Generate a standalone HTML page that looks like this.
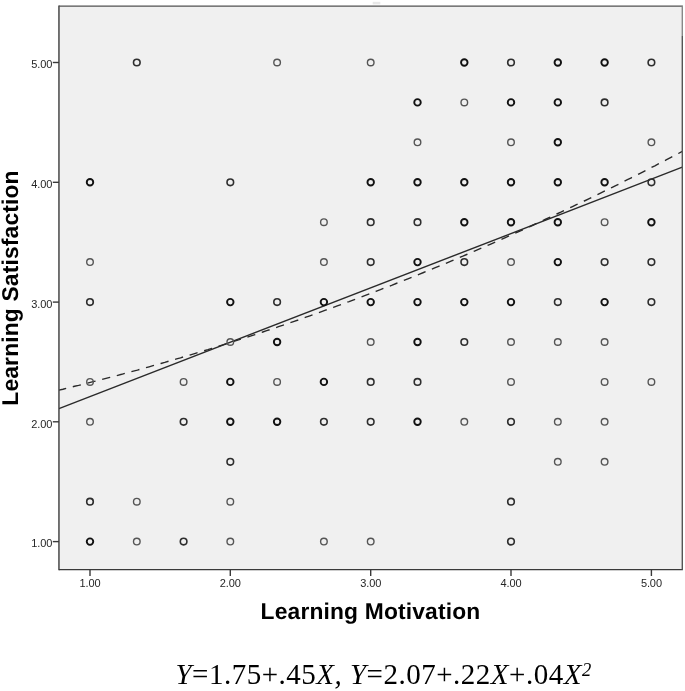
<!DOCTYPE html>
<html lang="en">
<head>
<meta charset="utf-8">
<title>Learning Motivation vs Learning Satisfaction</title>
<style>
html,body{margin:0;padding:0;background:#fff;}
body{width:685px;height:691px;overflow:hidden;position:relative;}
svg{position:absolute;left:0;top:0;display:block;}
.tick{font-family:"Liberation Sans",Arial,sans-serif;font-size:11px;letter-spacing:-0.1px;fill:#262626;}
.axl{font-family:"Liberation Sans",Arial,sans-serif;font-weight:bold;text-rendering:geometricPrecision;font-size:22.8px;letter-spacing:0.17px;fill:#000;}
.eq{font-family:"Liberation Serif","Times New Roman",serif;font-size:29px;letter-spacing:0.5px;fill:#000;}
.eq .i{font-style:italic;}
</style>
</head>
<body>
<svg width="685" height="691" viewBox="0 0 685 691">
<rect x="372.7" y="1.8" width="7.6" height="2.6" fill="#e8e8e8"/>
<rect x="58.95" y="6.2" width="623.3499999999999" height="563.4" fill="#f0f0f0"/>
<clipPath id="c"><rect x="58.95" y="6.2" width="623.3499999999999" height="563.4"/></clipPath>
<line x1="58.95" y1="408.6" x2="682.3" y2="167.2" stroke="#2a2a2a" stroke-width="1.4" clip-path="url(#c)"/>
<polyline points="59.0,390.1 62.9,389.2 66.8,388.2 70.7,387.3 74.6,386.3 78.6,385.4 82.5,384.4 86.4,383.4 90.3,382.4 94.2,381.4 98.2,380.4 102.1,379.4 106.0,378.4 109.9,377.4 113.8,376.4 117.8,375.3 121.7,374.3 125.6,373.2 129.5,372.2 133.4,371.1 137.4,370.1 141.3,369.0 145.2,367.9 149.1,366.8 153.0,365.7 157.0,364.6 160.9,363.5 164.8,362.4 168.7,361.2 172.6,360.1 176.6,358.9 180.5,357.8 184.4,356.6 188.3,355.5 192.2,354.3 196.2,353.1 200.1,351.9 204.0,350.8 207.9,349.6 211.8,348.3 215.8,347.1 219.7,345.9 223.6,344.7 227.5,343.4 231.4,342.2 235.4,340.9 239.3,339.7 243.2,338.4 247.1,337.2 251.1,335.9 255.0,334.6 258.9,333.3 262.8,332.0 266.7,330.7 270.7,329.4 274.6,328.1 278.5,326.7 282.4,325.4 286.3,324.0 290.3,322.7 294.2,321.3 298.1,320.0 302.0,318.6 305.9,317.2 309.9,315.8 313.8,314.4 317.7,313.0 321.6,311.6 325.5,310.2 329.5,308.8 333.4,307.4 337.3,305.9 341.2,304.5 345.1,303.0 349.1,301.6 353.0,300.1 356.9,298.6 360.8,297.2 364.7,295.7 368.7,294.2 372.6,292.7 376.5,291.2 380.4,289.7 384.3,288.1 388.3,286.6 392.2,285.1 396.1,283.5 400.0,282.0 403.9,280.4 407.9,278.8 411.8,277.3 415.7,275.7 419.6,274.1 423.6,272.5 427.5,270.9 431.4,269.3 435.3,267.7 439.2,266.1 443.2,264.4 447.1,262.8 451.0,261.2 454.9,259.5 458.8,257.8 462.8,256.2 466.7,254.5 470.6,252.8 474.5,251.1 478.4,249.4 482.4,247.7 486.3,246.0 490.2,244.3 494.1,242.6 498.0,240.9 502.0,239.1 505.9,237.4 509.8,235.6 513.7,233.9 517.6,232.1 521.6,230.3 525.5,228.5 529.4,226.8 533.3,225.0 537.2,223.2 541.2,221.4 545.1,219.5 549.0,217.7 552.9,215.9 556.8,214.0 560.8,212.2 564.7,210.3 568.6,208.5 572.5,206.6 576.4,204.7 580.4,202.9 584.3,201.0 588.2,199.1 592.1,197.2 596.1,195.3 600.0,193.4 603.9,191.4 607.8,189.5 611.7,187.6 615.7,185.6 619.6,183.7 623.5,181.7 627.4,179.7 631.3,177.8 635.3,175.8 639.2,173.8 643.1,171.8 647.0,169.8 650.9,167.8 654.9,165.8 658.8,163.7 662.7,161.7 666.6,159.7 670.5,157.6 674.5,155.6 678.4,153.5 682.3,151.4" fill="none" stroke="#2a2a2a" stroke-width="1.4" stroke-dasharray="8.3 6.83" stroke-dashoffset="0.93" clip-path="url(#c)"/>
<g fill="none" stroke="#555" stroke-width="1.4">
<circle cx="277.1" cy="62.5" r="3.3"/>
<circle cx="370.7" cy="62.5" r="3.3"/>
<circle cx="464.3" cy="102.4" r="3.3"/>
<circle cx="417.5" cy="142.3" r="3.3"/>
<circle cx="511.0" cy="142.3" r="3.3"/>
<circle cx="651.4" cy="142.3" r="3.3"/>
<circle cx="323.9" cy="222.2" r="3.3"/>
<circle cx="604.6" cy="222.2" r="3.3"/>
<circle cx="90.0" cy="262.1" r="3.3"/>
<circle cx="323.9" cy="262.1" r="3.3"/>
<circle cx="511.0" cy="262.1" r="3.3"/>
<circle cx="230.3" cy="342.0" r="3.3"/>
<circle cx="370.7" cy="342.0" r="3.3"/>
<circle cx="511.0" cy="342.0" r="3.3"/>
<circle cx="557.8" cy="342.0" r="3.3"/>
<circle cx="604.6" cy="342.0" r="3.3"/>
<circle cx="90.0" cy="381.9" r="3.3"/>
<circle cx="183.6" cy="381.9" r="3.3"/>
<circle cx="277.1" cy="381.9" r="3.3"/>
<circle cx="511.0" cy="381.9" r="3.3"/>
<circle cx="604.6" cy="381.9" r="3.3"/>
<circle cx="651.4" cy="381.9" r="3.3"/>
<circle cx="90.0" cy="421.8" r="3.3"/>
<circle cx="464.3" cy="421.8" r="3.3"/>
<circle cx="557.8" cy="421.8" r="3.3"/>
<circle cx="604.6" cy="421.8" r="3.3"/>
<circle cx="557.8" cy="461.8" r="3.3"/>
<circle cx="604.6" cy="461.8" r="3.3"/>
<circle cx="136.8" cy="501.7" r="3.3"/>
<circle cx="230.3" cy="501.7" r="3.3"/>
<circle cx="136.8" cy="541.6" r="3.3"/>
<circle cx="230.3" cy="541.6" r="3.3"/>
<circle cx="323.9" cy="541.6" r="3.3"/>
<circle cx="370.7" cy="541.6" r="3.3"/>
</g>
<g fill="none" stroke="#2e2e2e" stroke-width="1.6">
<circle cx="136.8" cy="62.5" r="3.3"/>
<circle cx="511.0" cy="62.5" r="3.3"/>
<circle cx="651.4" cy="62.5" r="3.3"/>
<circle cx="604.6" cy="102.4" r="3.3"/>
<circle cx="230.3" cy="182.3" r="3.3"/>
<circle cx="651.4" cy="182.3" r="3.3"/>
<circle cx="370.7" cy="222.2" r="3.3"/>
<circle cx="417.5" cy="222.2" r="3.3"/>
<circle cx="370.7" cy="262.1" r="3.3"/>
<circle cx="464.3" cy="262.1" r="3.3"/>
<circle cx="604.6" cy="262.1" r="3.3"/>
<circle cx="651.4" cy="262.1" r="3.3"/>
<circle cx="90.0" cy="302.1" r="3.3"/>
<circle cx="277.1" cy="302.1" r="3.3"/>
<circle cx="557.8" cy="302.1" r="3.3"/>
<circle cx="651.4" cy="302.1" r="3.3"/>
<circle cx="464.3" cy="342.0" r="3.3"/>
<circle cx="370.7" cy="381.9" r="3.3"/>
<circle cx="417.5" cy="381.9" r="3.3"/>
<circle cx="183.6" cy="421.8" r="3.3"/>
<circle cx="323.9" cy="421.8" r="3.3"/>
<circle cx="370.7" cy="421.8" r="3.3"/>
<circle cx="511.0" cy="421.8" r="3.3"/>
<circle cx="230.3" cy="461.8" r="3.3"/>
<circle cx="90.0" cy="501.7" r="3.3"/>
<circle cx="511.0" cy="501.7" r="3.3"/>
<circle cx="183.6" cy="541.6" r="3.3"/>
<circle cx="511.0" cy="541.6" r="3.3"/>
</g>
<g fill="none" stroke="#111" stroke-width="1.9">
<circle cx="464.3" cy="62.5" r="3.25"/>
<circle cx="557.8" cy="62.5" r="3.25"/>
<circle cx="604.6" cy="62.5" r="3.25"/>
<circle cx="417.5" cy="102.4" r="3.25"/>
<circle cx="511.0" cy="102.4" r="3.25"/>
<circle cx="557.8" cy="102.4" r="3.25"/>
<circle cx="557.8" cy="142.3" r="3.25"/>
<circle cx="90.0" cy="182.3" r="3.25"/>
<circle cx="370.7" cy="182.3" r="3.25"/>
<circle cx="417.5" cy="182.3" r="3.25"/>
<circle cx="464.3" cy="182.3" r="3.25"/>
<circle cx="511.0" cy="182.3" r="3.25"/>
<circle cx="557.8" cy="182.3" r="3.25"/>
<circle cx="604.6" cy="182.3" r="3.25"/>
<circle cx="464.3" cy="222.2" r="3.25"/>
<circle cx="511.0" cy="222.2" r="3.25"/>
<circle cx="557.8" cy="222.2" r="3.25"/>
<circle cx="651.4" cy="222.2" r="3.25"/>
<circle cx="417.5" cy="262.1" r="3.25"/>
<circle cx="557.8" cy="262.1" r="3.25"/>
<circle cx="230.3" cy="302.1" r="3.25"/>
<circle cx="323.9" cy="302.1" r="3.25"/>
<circle cx="370.7" cy="302.1" r="3.25"/>
<circle cx="417.5" cy="302.1" r="3.25"/>
<circle cx="464.3" cy="302.1" r="3.25"/>
<circle cx="511.0" cy="302.1" r="3.25"/>
<circle cx="604.6" cy="302.1" r="3.25"/>
<circle cx="277.1" cy="342.0" r="3.25"/>
<circle cx="417.5" cy="342.0" r="3.25"/>
<circle cx="230.3" cy="381.9" r="3.25"/>
<circle cx="323.9" cy="381.9" r="3.25"/>
<circle cx="230.3" cy="421.8" r="3.25"/>
<circle cx="277.1" cy="421.8" r="3.25"/>
<circle cx="417.5" cy="421.8" r="3.25"/>
<circle cx="90.0" cy="541.6" r="3.25"/>
</g>
<g stroke="#3a3a3a" stroke-width="1.4" fill="none">
<line x1="58.95" y1="5.6000000000000005" x2="58.95" y2="570.2"/>
<line x1="58.95" y1="569.6" x2="682.9" y2="569.6"/>
<line x1="58.95" y1="6.2" x2="682.9" y2="6.2" stroke="#505050" stroke-width="1.3"/>
<line x1="682.3" y1="6.2" x2="682.3" y2="36" stroke="#888"/>
<line x1="682.3" y1="36" x2="682.3" y2="569.6" stroke="#555"/>
<line x1="52.8" y1="541.6" x2="58.95" y2="541.6"/>
<line x1="90.0" y1="569.6" x2="90.0" y2="576"/>
<line x1="52.8" y1="421.8" x2="58.95" y2="421.8"/>
<line x1="230.3" y1="569.6" x2="230.3" y2="576"/>
<line x1="52.8" y1="302.1" x2="58.95" y2="302.1"/>
<line x1="370.7" y1="569.6" x2="370.7" y2="576"/>
<line x1="52.8" y1="182.3" x2="58.95" y2="182.3"/>
<line x1="511.0" y1="569.6" x2="511.0" y2="576"/>
<line x1="52.8" y1="62.5" x2="58.95" y2="62.5"/>
<line x1="651.4" y1="569.6" x2="651.4" y2="576"/>
</g>
<text class="tick" x="52.3" y="547.3" text-anchor="end">1.00</text>
<text class="tick" x="90.0" y="587" text-anchor="middle">1.00</text>
<text class="tick" x="52.3" y="427.5" text-anchor="end">2.00</text>
<text class="tick" x="230.3" y="587" text-anchor="middle">2.00</text>
<text class="tick" x="52.3" y="307.8" text-anchor="end">3.00</text>
<text class="tick" x="370.7" y="587" text-anchor="middle">3.00</text>
<text class="tick" x="52.3" y="188.0" text-anchor="end">4.00</text>
<text class="tick" x="511.0" y="587" text-anchor="middle">4.00</text>
<text class="tick" x="52.3" y="68.2" text-anchor="end">5.00</text>
<text class="tick" x="651.4" y="587" text-anchor="middle">5.00</text>
<text class="axl" x="370.5" y="618.7" text-anchor="middle">Learning Motivation</text>
<text class="axl" transform="translate(18.2 288) rotate(-90)" text-anchor="middle">Learning Satisfaction</text>
<text class="eq" x="175.4" y="684"><tspan class="i">Y</tspan>=1.75+.45<tspan class="i">X,</tspan> <tspan class="i">Y</tspan>=2.07+.22<tspan class="i">X</tspan>+.04<tspan class="i">X</tspan><tspan class="i" font-size="18.5px" dy="-8.5">2</tspan></text>
</svg>
</body>
</html>
